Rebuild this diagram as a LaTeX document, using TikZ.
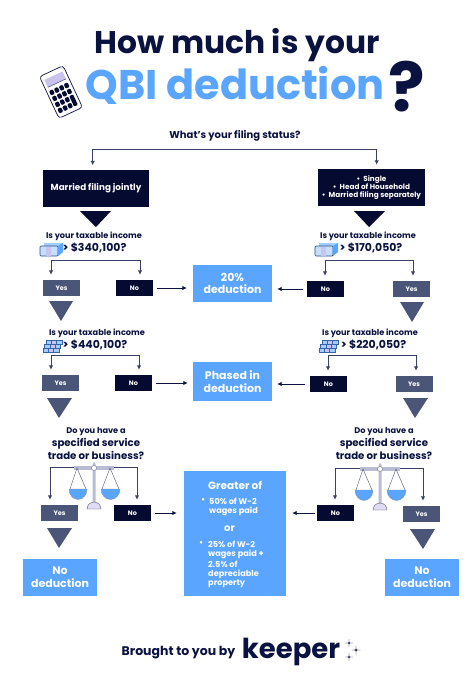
\documentclass[tikz,border=0pt]{standalone}
\usepackage{fontspec}
\setmainfont{Poppins}
\usetikzlibrary{arrows.meta,calc}
\definecolor{navy}{HTML}{0A1240}
\definecolor{deep}{HTML}{050A30}
\definecolor{slate}{HTML}{4A5578}
\definecolor{sky}{HTML}{5AA5FF}
\definecolor{lav}{HTML}{C9C3EE}
\definecolor{paleln}{HTML}{B9BCD2}
\tikzset{
  x=1pt,y=-1pt,
  tx/.style={text=navy,font=\bfseries,inner sep=0pt,align=center},
  darkbox/.style={fill=deep,draw=none,text=white,font=\bfseries\fontsize{8.8}{10}\selectfont,align=center,inner sep=0pt},
  yesbox/.style={fill=slate,text=white,font=\bfseries\fontsize{6.5}{8}\selectfont,minimum width=37pt,minimum height=16pt,inner sep=0pt},
  nobox/.style={fill=deep,text=white,font=\bfseries\fontsize{6.5}{8}\selectfont,minimum width=37pt,minimum height=16pt,inner sep=0pt},
  skybox/.style={fill=sky,text=white,font=\bfseries\fontsize{11}{12.6}\selectfont,align=center,inner sep=0pt,minimum height=37pt},
  conn/.style={draw=navy,line width=1pt,-{Latex[length=4.5pt,width=4.5pt]}},
  bar/.style={draw=navy!80,line width=1pt,{Latex[length=4.5pt,width=4.5pt]}-{Latex[length=4.5pt,width=4.5pt]},shorten <=5pt,shorten >=5pt},
  tri/.style={fill=#1,draw=none},
  small/.style={tx,font=\bfseries\fontsize{8.2}{10}\selectfont},
  amount/.style={tx,font=\bfseries\fontsize{10.9}{12}\selectfont},
  trade/.style={tx,font=\bfseries\fontsize{10.2}{12}\selectfont},
}
\begin{document}
\begin{tikzpicture}
\useasboundingbox (0,0) rectangle (474,685);
\fill[white] (0,0) rectangle (474,685);
% title
\node[tx,font=\bfseries\fontsize{31.3}{36}\selectfont] (t1) at (237,45) {How much is your};
\node[tx,text=sky,font=\bfseries\fontsize{41.4}{46}\selectfont] (t2) at (235,85) {QBI deduction};
\node[tx,font=\bfseries\fontsize{68}{70}\selectfont] (t3) at (407,87) {?};
% calculator
\begin{scope}[shift={(61,92)},rotate=25]
\draw[navy,fill=white,line width=0.7pt,rounded corners=3pt] (-13,-23) rectangle (13,23);
\fill[lav] (-10,-18) rectangle (10,-10);
\draw[slate,line width=0.6pt] (-10,-9.8) -- (10,-9.8);
\foreach \r in {0,1,2,3}{\foreach \c in {0,1,2}{
  \fill[deep,rounded corners=1pt] ({-10.5+\c*5.4},{-6+\r*6.6}) rectangle +(4.2,5);}}
\foreach \r in {0,1}{\fill[deep,rounded corners=1pt] (5.7,{-6+\r*6.6}) rectangle +(4.2,5);}
\fill[deep,rounded corners=1pt] (5.7,7.2) rectangle +(4.2,11.6);
\end{scope}
% question
\node[tx,font=\bfseries\fontsize{10}{12}\selectfont] (q) at (235,136) {What’s your filing status?};
\node[darkbox,minimum width=106pt,minimum height=37pt] (mfj) at (96,188) {Married filing jointly};
\node[darkbox,minimum width=107pt,minimum height=37pt,font=\bfseries\fontsize{7.3}{8}\selectfont] (sgl) at (371.5,187.5) {•\ \ Single\\•\ \ Head of Household\\•\ \ Married filing separately};
\coordinate (qa) at (92.7,149.7);
\coordinate (qb) at (376.7,149.7);
\draw[bar,shorten <=4pt,shorten >=4pt] (qa |- mfj.north) -- (qa) -- (qb) -- (qb |- sgl.north);
\fill[tri=deep] (80,211) -- (111,211) -- (96,227) -- cycle;
\fill[tri=deep] (354,211) -- (385,211) -- (369,227) -- cycle;
% ---------- row 1 left
\node[small] (l1a) at (94,236) {Is your taxable income};
\node[amount] (l1b) at (94.5,248) {> \$340,100?};
\node[yesbox] (ly1) at (61.5,288) {Yes};
\node[nobox] (ln1) at (134.5,288) {No};
\node[skybox,minimum width=79pt] (d20) at (232.5,283.5) {20\%\\deduction};
\coordinate (a1) at (51,260); \coordinate (b1) at (140,260);
\draw[bar] (a1 |- ly1.north) -- (a1) -- (b1) -- (b1 |- ln1.north);
\draw[conn,shorten <=4pt,shorten >=6pt] (ln1.east) -- (d20.west |- ln1.east);
\fill[tri=slate] (49,301) -- (73,301) -- (61,321) -- cycle;
% row 1 right
\node[small] (r1a) at (368,236) {Is your taxable income};
\node[amount] (r1b) at (371,248) {> \$170,050?};
\node[nobox] (rn1) at (325.5,289) {No};
\node[yesbox] (ry1) at (411.5,289) {Yes};
\coordinate (c1) at (325,260); \coordinate (e1) at (413,260);
\draw[bar] (c1 |- rn1.north) -- (c1) -- (e1) -- (e1 |- ry1.north);
\draw[conn,shorten <=4pt,shorten >=5pt] (rn1.west) -- (d20.east |- rn1.west);
\fill[tri=slate] (400,302) -- (424,302) -- (412,322) -- cycle;
% ---------- row 2 left
\node[small] (l2a) at (97,333) {Is your taxable income};
\node[amount] (l2b) at (95,345) {> \$440,100?};
\node[yesbox] (ly2) at (60.5,383) {Yes};
\node[nobox] (ln2) at (133.5,383) {No};
\node[skybox,minimum width=79pt,minimum height=39pt] (dph) at (232.5,381.5) {Phased in\\deduction};
\coordinate (a2) at (51,355); \coordinate (b2) at (139,355);
\draw[bar] (a2 |- ly2.north) -- (a2) -- (b2) -- (b2 |- ln2.north);
\draw[conn,shorten <=4pt,shorten >=5pt] (ln2.east) -- (dph.west |- ln2.east);
\fill[tri=slate] (47,398) -- (72,398) -- (59,418) -- cycle;
% row 2 right
\node[small] (r2a) at (370,333) {Is your taxable income};
\node[amount] (r2b) at (373.5,345) {> \$220,050?};
\node[nobox] (rn2) at (328.5,384) {No};
\node[yesbox] (ry2) at (414,384) {Yes};
\coordinate (c2) at (328,355); \coordinate (e2) at (416,355);
\draw[bar] (c2 |- rn2.north) -- (c2) -- (e2) -- (e2 |- ry2.north);
\draw[conn,shorten <=5pt,shorten >=5pt] (rn2.west) -- (dph.east |- rn2.west);
\fill[tri=slate] (403,398) -- (428,398) -- (415,418) -- cycle;
% ---------- row 3 left
\node[small] (l3a) at (96,432) {Do you have a};
\node[trade] (l3b) at (96,443.5) {specified service};
\node[trade] (l3c) at (96,455) {trade or business?};
\node[yesbox] (ly3) at (59.5,513) {Yes};
\node[nobox] (ln3) at (132.5,513) {No};
\node[fill=sky,minimum width=102pt,minimum height=125pt,inner sep=0pt] (big) at (235,533.5) {};
\coordinate (a3) at (50,467); \coordinate (b3) at (137,467);
\draw[bar] (a3 |- ly3.north) -- (a3) -- (b3) -- (b3 |- ln3.north);
\draw[conn,shorten <=4pt,shorten >=7pt] (ln3.east) -- (big.west |- ln3.east);
\fill[tri=slate] (47,528) -- (72,528) -- (59,548) -- cycle;
\node[skybox,minimum width=74pt] (nd1) at (60,577) {No\\deduction};
% row 3 right
\node[small] (r3a) at (384,432) {Do you have a};
\node[trade] (r3b) at (384,443.5) {specified service};
\node[trade] (r3c) at (384,455) {trade or business?};
\node[nobox] (rn3) at (335.5,513) {No};
\node[yesbox] (ry3) at (421.5,514) {Yes};
\coordinate (c3) at (335,468); \coordinate (e3) at (423,468);
\draw[bar] (c3 |- rn3.north) -- (c3) -- (e3) -- (e3 |- ry3.north);
\draw[conn,shorten <=2pt,shorten >=6pt] (rn3.west) -- (big.east |- rn3.west);
\fill[tri=slate] (410,529) -- (435,529) -- (423,549) -- cycle;
\node[skybox,minimum width=74pt] (nd2) at (422,577) {No\\deduction};
% big box text
\begin{scope}[every node/.style={text=white,font=\bfseries\fontsize{8.2}{10}\selectfont,inner sep=0pt,anchor=west}]
\node[font=\bfseries\fontsize{10.5}{12}\selectfont] (g0) at (208,485) {Greater of};
\node (g1) at (201,501) {•}; \node (g2) at (209,501) {50\% of W-2};
\node (g3) at (209,511) {wages paid};
\node[font=\bfseries\fontsize{10}{12}\selectfont] (g4) at (224,529) {or};
\node (g5) at (199,544) {•}; \node (g6) at (208,544) {25\% of W-2};
\node (g7) at (208,554) {wages paid +};
\node (g8) at (208,564) {2.5\% of};
\node (g9) at (208,574) {depreciable};
\node (g10) at (208,584) {property};
\end{scope}
% money icons
\foreach \x/\y in {40/243,315/243}{
\begin{scope}[shift={(\x,\y)}]
\fill[sky!55!white] (4,0) rectangle (23,9);
\draw[sky!40!navy,fill=sky!35!white,line width=0.7pt,rounded corners=1pt] (0,3) rectangle (18,13);
\fill[sky] (18,3) -- (23,0) -- (23,9) -- (18,13) -- cycle;
\fill[lav] (6,3.5) rectangle (11,12.5);
\end{scope}}
% brick icons
\foreach \x/\y in {43/340,319/340}{
\begin{scope}[shift={(\x,\y)}]
\foreach \r/\o in {0/3,1/1.5,2/0}{\foreach \c in {0,1,2}{
  \ifodd\c\def\bc{lav}\else\def\bc{sky!55!white}\fi
  \draw[sky!55!navy,fill=\bc,line width=0.4pt] ({\o+\c*5.3},{\r*4.1}) rectangle +(5.3,4.1);}}
\end{scope}}
% scales
\foreach \x/\y in {94/462,380/463}{
\begin{scope}[shift={(\x,\y)}]
\fill[paleln] (-20,4.2) rectangle (20,7.8);
\fill[paleln] (-1.5,2) -- (0,0) -- (1.5,2) -- (1.5,40) -- (-1.5,40) -- cycle;
\draw[navy!70,fill=lav!60!white,line width=0.4pt] (-7,47) arc[start angle=180,end angle=360,radius=7] -- cycle;
\draw[navy!60,line width=0.4pt,fill=white] (0,6) circle (2.5);
\draw[navy!70,line width=0.4pt] (-24,27) -- (-17,6) -- (-8,27);
\draw[navy!70,line width=0.4pt] (8,27) -- (16,6) -- (25,27);
\fill[sky,draw=navy!50,line width=0.3pt] (-25,27) arc[start angle=180,end angle=0,x radius=9,y radius=10.5] -- cycle;
\fill[sky,draw=navy!50,line width=0.3pt] (7,27) arc[start angle=180,end angle=0,x radius=9.5,y radius=10.5] -- cycle;
\end{scope}}
% footer
\node[tx,font=\bfseries\fontsize{12.5}{14}\selectfont] (br) at (178.5,653) {Brought to you by};
\node[tx,font=\fontsize{27.5}{30}\selectfont\bfseries] (kp) at (291,652) {keeper};
\foreach \x/\y/\s in {349/643/4,356/650/4.5,349/657/4}{
\fill[deep] (\x,\y-\s) .. controls (\x,\y) .. (\x+\s,\y) .. controls (\x,\y) .. (\x,\y+\s) .. controls (\x,\y) .. (\x-\s,\y) .. controls (\x,\y) .. cycle;}
\end{tikzpicture}
\end{document}
